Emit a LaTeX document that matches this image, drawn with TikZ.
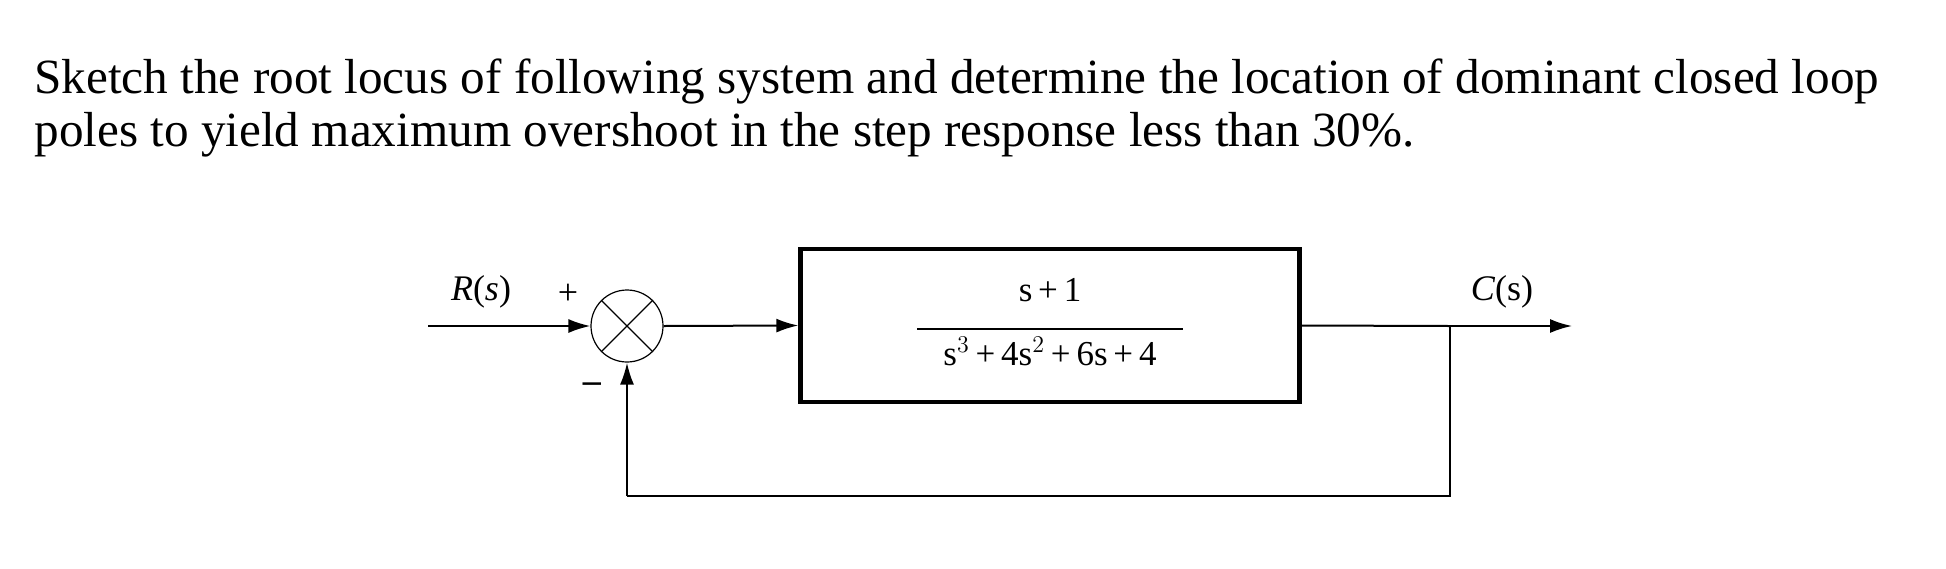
\documentclass[tikz,border=0pt]{standalone}
\usepackage{fontspec}
\setmainfont{Liberation Serif}
\usetikzlibrary{arrows.meta}
\begin{document}
\begin{tikzpicture}[x=0.5pt,y=-0.5pt,
  line/.style={line width=1pt},
  arr/.style={line, -{Latex[length=11pt,width=7pt]}},
  lbl/.style={font=\fontsize{18}{21}\selectfont, inner sep=0pt}]
\useasboundingbox (0,0) rectangle (1946,568);
\node[anchor=base west, font=\fontsize{24.6}{29}\selectfont, inner sep=0pt] (t1) at (34,93) {Sketch the root locus of following system and determine the location of dominant closed loop};
\node[anchor=base west, font=\fontsize{24.6}{29}\selectfont, inner sep=0pt] (t2) at (34,146) {poles to yield maximum overshoot in the step response less than 30\%.};
\node[draw, line width=2.2pt, minimum width=249.5pt, minimum height=76.5pt, inner sep=0pt, font=\fontsize{17.5}{20}\selectfont] (g) at (1050,325.5) {%
  \begin{tabular}{@{}c@{}}s\,+\,1\\[-6pt]\rule{133pt}{0.6pt}\\[-2pt]s$^{3}$\,+\,4s$^{2}$\,+\,6s\,+\,4\end{tabular}};
\node[draw, circle, line width=0.6pt, minimum size=36pt, inner sep=0pt] (sum) at (627,326) {};
\draw[line width=0.6pt] (sum.north west) -- (sum.south east) (sum.north east) -- (sum.south west);
\coordinate (in) at (428,326);
\coordinate (br) at (1450,326);
\coordinate (out) at (1572,326);
\coordinate (fb) at (1450,496);
\coordinate (fb2) at (627,496);
\draw[arr] (in) -- (sum.west);
\draw[arr] (sum.east) -- (g.west);
\draw[line] (g.east) -- (br);
\draw[arr] (br) -- (out);
\draw[line] (br) -- (fb) -- (fb2);
\draw[arr] (fb2) -- (sum.south);
\node[lbl] (R) at (481,292) {\textit{R}(\textit{s})};
\node[lbl] (plus) at (568,294) {+};
\node[lbl] (minus) at (592,388) {\textbf{–}};
\node[lbl] (C) at (1502,292) {\textit{C}(s)};
\end{tikzpicture}
\end{document}
